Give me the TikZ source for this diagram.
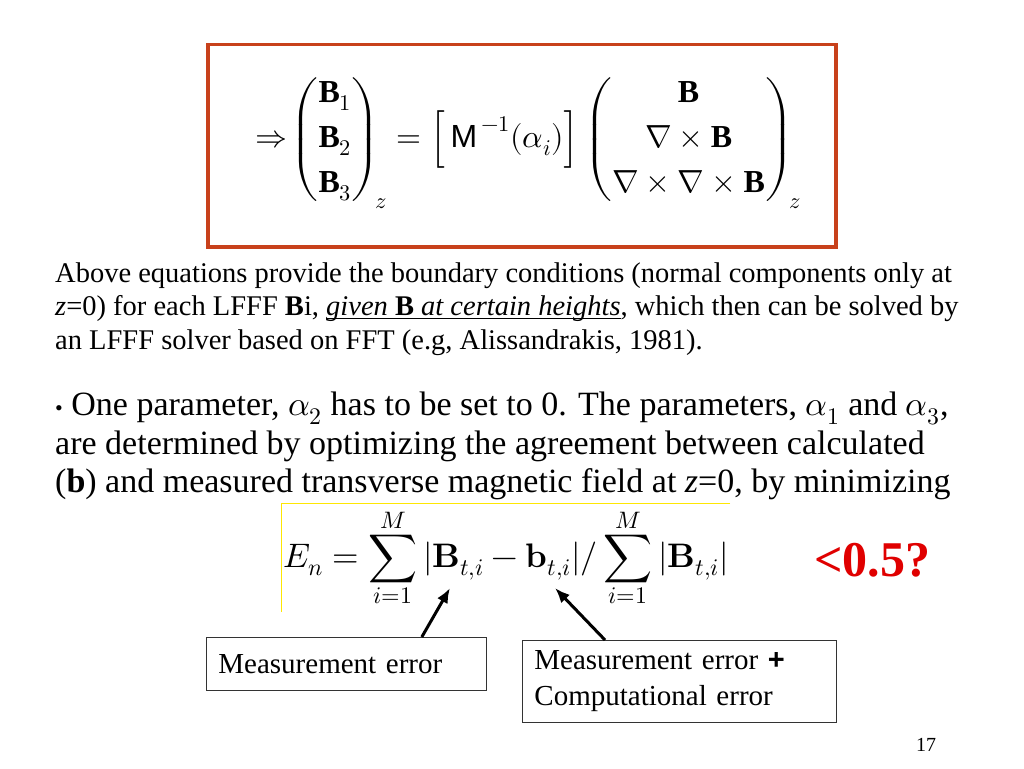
\documentclass[tikz,border=0pt]{standalone}
\usepackage{amsmath}
\usepackage{fontspec}
\usepackage{unicode-math}
\setmainfont{Liberation Serif}
\setsansfont{Liberation Sans}
\setmathfont{Latin Modern Math}
\usetikzlibrary{arrows.meta}
\definecolor{boxred}{HTML}{C8411B}
\definecolor{hotred}{HTML}{E00000}
\newcommand\myul[1]{\setbox0\hbox{#1}\rlap{\copy0}\rule[-3.5pt]{\wd0}{1.2pt}}
\tikzset{
  txt/.style={anchor=west,inner sep=0pt,align=left},
  lbl/.style={draw=black!80,line width=0.8pt,fill=white,inner xsep=12pt,inner ysep=5pt,align=left,text width=#1,font=\fontsize{29}{37}\selectfont},
  arr/.style={line width=3pt,-{Latex[length=15pt,width=12pt]}}
}
\begin{document}
\begin{tikzpicture}[x=1pt,y=-1pt]
\useasboundingbox (0,0) rectangle (1024,768);
\fill[white] (0,0) rectangle (1024,768);
\node[draw=boxred,line width=3.5pt,minimum width=628pt,minimum height=202pt,anchor=north west] (box) at (206,43) {};
\node[inner sep=0pt,font=\fontsize{32}{39}\selectfont] (eq) at (528,142) {$\Rightarrow\!\begin{pmatrix}\mathbf{B}_1\\[6pt] \mathbf{B}_2\\[6pt] \mathbf{B}_3\end{pmatrix}_{\!z}
=\Big[\,\textsf{M}^{\,-1}(\alpha_i)\Big]\begin{pmatrix}\mathbf{B}\\[6pt] \nabla\times\mathbf{B}\\[6pt] \nabla\times\nabla\times\mathbf{B}\end{pmatrix}_{\!z}$};
\node[txt,font=\fontsize{28.5}{33.5}\selectfont] (para) at (55,309) {Above equations provide the boundary conditions (normal components only at\\
\textit{z}=0) for each LFFF \textbf{B}i, \myul{\textit{given} \textbf{B} \textit{at certain heights}}, which then can be solved by\\
an LFFF solver based on FFT (e.g, Alissandrakis, 1981).};
\node[txt,font=\fontsize{34}{38.5}\selectfont] (bul) at (55,446) {{\fontsize{22}{22}\selectfont\textbullet} One parameter, $\alpha_2$ has to be set to 0. The parameters, $\alpha_1$ and $\alpha_3$,\\
are determined by optimizing the agreement between calculated\\
(\textbf{b}) and measured transverse magnetic field at \textit{z}=0, by minimizing};
\draw[yellow!90!orange,line width=1pt] (730,503) -- (281,503) -- (281,612);
\node[inner sep=0pt,font=\fontsize{34}{40}\selectfont] (en) at (506,558) {$E_n=\displaystyle\sum_{i=1}^{M}|\symbfup{B}_{t,i}-\symbfup{b}_{t,i}|/\sum_{i=1}^{M}|\symbfup{B}_{t,i}|$};
\node[text=hotred,font=\bfseries\fontsize{50}{50}\selectfont,inner sep=0pt] (q) at (872,560) {<0.5?};
\node[lbl=256pt,anchor=north west,minimum height=53pt] (m1) at (206,637) {Measurement error};
\node[lbl=290pt,anchor=north west,minimum height=82pt,font=\fontsize{29}{36}\selectfont] (m2) at (522,640) {Measurement error {\sffamily\bfseries +}\\Computational error};
\coordinate (t1) at (450,588);
\coordinate (t2) at (555,588);
\draw[arr] ([xshift=-65pt]m1.north east) -- (t1);
\draw[arr] ([xshift=83pt]m2.north west) -- (t2);
\node[font=\fontsize{20}{20}\selectfont] (pg) at (926,745) {17};
\end{tikzpicture}
\end{document}
